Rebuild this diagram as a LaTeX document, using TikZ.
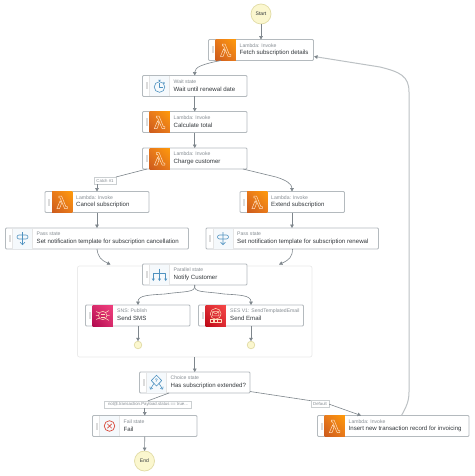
\documentclass[tikz,border=0pt]{standalone}
\usepackage{fontspec}
\setmainfont{Liberation Sans}
\usetikzlibrary{arrows.meta,calc,shadings}
\definecolor{edgeC}{HTML}{7E868C}
\definecolor{loopC}{HTML}{BCC1C4}
\definecolor{borderC}{HTML}{B4BABE}
\definecolor{typeC}{HTML}{858C92}
\definecolor{titleC}{HTML}{33383C}
\definecolor{stripC}{HTML}{F5F9FC}
\definecolor{iconB}{HTML}{4F92C0}
\definecolor{iconR}{HTML}{D8483A}
\definecolor{endFill}{HTML}{FBF7CF}
\definecolor{endLine}{HTML}{E2DCA6}
\definecolor{lamLL}{HTML}{CC5A1C}
\definecolor{lamUR}{HTML}{FF9A0A}
\definecolor{lamMid}{HTML}{E87A1C}
\definecolor{snsLL}{HTML}{B0084D}
\definecolor{snsUR}{HTML}{F0407E}
\definecolor{snsMid}{HTML}{D82C6C}
\definecolor{sesLL}{HTML}{BD0816}
\definecolor{sesUR}{HTML}{F54848}
\definecolor{sesMid}{HTML}{DE2D34}
\tikzset{
  x=1pt,y=-1pt,
  statebox/.style={draw=borderC,line width=.8pt,rounded corners=1pt,fill=white,inner sep=0pt,outer sep=0pt,anchor=north west,minimum height=21pt},
  typetext/.style={anchor=west,inner sep=0pt,text=typeC,font=\fontsize{5.1}{6}\selectfont},
  titletext/.style={anchor=west,inner sep=0pt,text=titleC,font=\fontsize{6.1}{7}\selectfont},
  terminal/.style={circle,draw=endLine,line width=.7pt,fill=endFill,inner sep=0pt,outer sep=0pt,minimum size=20pt,font=\fontsize{5.1}{6}\selectfont,text=titleC},
  dotend/.style={circle,draw=endLine,line width=.7pt,fill=endFill,inner sep=0pt,outer sep=0pt,minimum size=7.6pt},
  choicelabel/.style={draw=borderC!70,line width=.5pt,fill=white,inner sep=0pt,outer sep=0pt,minimum height=7pt,font=\fontsize{4.3}{5}\selectfont,text=typeC},
  conn/.style={draw=edgeC,line width=.6pt,-{Triangle[length=3.4pt,width=3.6pt]}},
  connplain/.style={draw=edgeC,line width=.6pt},
  loopconn/.style={draw=loopC,line width=1pt,-{Triangle[length=3.4pt,width=3.6pt,color=edgeC]}},
  groupbox/.style={draw=black!8,line width=.7pt,rounded corners=2pt,fill=white,inner sep=0pt,outer sep=0pt,anchor=north west},
  blueicon/.style={draw=iconB,line width=.6pt,fill=none,line join=round},
  whiteicon/.style={draw=white!75!orange,line width=.5pt,fill=none,line join=round},
}
% #1 name #2 x1 #3 y1 #4 x2 #5 icon code #6 type #7 title #8 text offset
\newcommand{\statenode}[8]{%
  \pgfmathsetmacro{\boxw}{#4-#2}%
  \node[statebox,minimum width=\boxw pt] (#1) at (#2,#3) {};
  \fill[black!14] (#2+3,#3+7) rectangle (#2+5,#3+14);
  \begin{scope}[shift={(#2+7,#3)}]#5\end{scope}
  \node[typetext] (#1-type) at (#2+#8,#3+5.7) {#6};
  \node[titletext] (#1-title) at (#2+#8,#3+13.7) {#7};
}
\newcommand{\iconstrip}{%
  \fill[stripC] (0,.5) rectangle (20,20.5);
  \draw[black!10,line width=.4pt] (0,.5) -- (0,20.5) (20,.5) -- (20,20.5);
}
\newcommand{\lambdaicon}{%
  \shade[lower left=lamLL,upper right=lamUR,lower right=lamMid,upper left=lamMid] (0,0) rectangle (20.4,21);
  \draw[whiteicon] (6.8,4.6) -- (9.6,4.6) -- (13.8,15) -- (15.4,15) -- (15.4,17) -- (12.6,17) -- (8.6,7.6) -- (8,6.4) -- (6.8,6.4) -- cycle
    (8.1,9.4) -- (9.4,12.2) -- (7.6,17) -- (4.9,17) -- cycle;
}
\newcommand{\waiticon}{\iconstrip
  \draw[blueicon] (10,11.5) circle (5.3);
  \draw[blueicon] (10,7.6) -- (10,11.7) -- (13,11.7);
  \draw[blueicon] (8.6,4.6) -- (11.4,4.6) (10,4.6) -- (10,6.2) (14,6.6) -- (15.2,7.8);
}
\newcommand{\passicon}{\iconstrip
  \draw[blueicon,rounded corners=2pt] (4.5,7) rectangle (15.5,11);
  \draw[blueicon] (10,4) -- (10,16.5) (7.6,14.2) -- (10,16.8) -- (12.4,14.2);
}
\newcommand{\parallelicon}{\iconstrip
  \draw[blueicon] (10,4.5) -- (10,15) (3.8,15) -- (3.8,9.5) -- (16.2,9.5) -- (16.2,15);
  \fill[iconB] (2.2,14.5) -- (5.4,14.5) -- (3.8,17) -- cycle (8.4,14.5) -- (11.6,14.5) -- (10,17) -- cycle (14.6,14.5) -- (17.8,14.5) -- (16.2,17) -- cycle;
}
\newcommand{\choiceicon}{\iconstrip
  \draw[blueicon] (10,3.2) -- (15.2,8.6) -- (10,14) -- (4.8,8.6) -- cycle;
  \node[inner sep=0pt,text=iconB,font=\fontsize{5}{5}\bfseries\selectfont] (choiceq) at (10,8.6) {?};
  \draw[blueicon] (7.4,11.5) -- (4,17) (12.6,11.5) -- (16,17);
  \draw[blueicon] (3.4,14.6) -- (3.8,17.2) -- (6.2,16.4) (16.6,14.6) -- (16.2,17.2) -- (13.8,16.4);
}
\newcommand{\failicon}{\iconstrip
  \draw[iconR,line width=.7pt] (10,10.5) circle (5.3);
  \draw[iconR,line width=.7pt] (7.8,8.3) -- (12.2,12.7) (12.2,8.3) -- (7.8,12.7);
}
\newcommand{\snsicon}{%
  \shade[lower left=snsLL,upper right=snsUR,lower right=snsMid,upper left=snsMid] (0,0) rectangle (20.4,21);
  \draw[whiteicon] (10.2,10.5) circle (4.2) (6,10.5) -- (3.4,10.5) (13.2,7.4) -- (16.4,5.6) (14.4,10.5) -- (17.2,10.5) (13.2,13.6) -- (16.4,15.4) (3.6,6.5) -- (6.8,8) (3.6,14.5) -- (6.8,13);
  \draw[whiteicon] (8.2,9) -- (12.2,9) (8.2,11.8) -- (12.2,11.8);
}
\newcommand{\sesicon}{%
  \shade[lower left=sesLL,upper right=sesUR,lower right=sesMid,upper left=sesMid] (0,0) rectangle (20.4,21);
  \draw[whiteicon] (10.2,8.8) circle (5.4) (7,6.6) rectangle (13.4,10.8) (7,6.6) -- (10.2,9) -- (13.4,6.6);
  \draw[whiteicon] (4.5,14.5) rectangle (8.5,17.4) (8.2,14.5) rectangle (12.2,17.4) (11.9,14.5) rectangle (15.9,17.4);
}
\begin{document}
\begin{tikzpicture}
\useasboundingbox (0,0) rectangle (474,476);
\fill[white] (0,0) rectangle (474,476);
% parallel group
\node[groupbox,minimum width=234.5pt,minimum height=91pt] (group) at (77.5,266) {};
% states
\node[terminal] (start) at (261,14) {Start};
\statenode{fetch}{208.5}{39.5}{313.5}{\lambdaicon}{Lambda: Invoke}{Fetch subscription details}{31}
\statenode{wait}{142.5}{75.5}{247}{\waiticon}{Wait state}{Wait until renewal date}{31}
\statenode{calc}{142.5}{111.5}{247}{\lambdaicon}{Lambda: Invoke}{Calculate total}{31}
\statenode{charge}{142.5}{148}{247}{\lambdaicon}{Lambda: Invoke}{Charge customer}{31}
\statenode{cancel}{45}{191.5}{149}{\lambdaicon}{Lambda: Invoke}{Cancel subscription}{31}
\statenode{extend}{240}{191.5}{344.5}{\lambdaicon}{Lambda: Invoke}{Extend subscription}{31}
\statenode{passa}{5.5}{228}{188.5}{\passicon}{Pass state}{Set notification template for subscription cancellation}{31}
\statenode{passb}{206}{228}{378.5}{\passicon}{Pass state}{Set notification template for subscription renewal}{31}
\statenode{parallel}{142.5}{264}{247}{\parallelicon}{Parallel state}{Notify Customer}{31}
\statenode{sns}{85.5}{305}{190}{\snsicon}{SNS: Publish}{Send SMS}{31.5}
\statenode{ses}{198.5}{305}{303.5}{\sesicon}{SES V1: SendTemplatedEmail}{Send Email}{31.5}
\node[dotend] (dota) at (138,345) {};
\node[dotend] (dotb) at (251,345) {};
\statenode{choice}{139.5}{372}{250}{\choiceicon}{Choice state}{Has subscription extended?}{31}
\statenode{fail}{92.5}{415.5}{197}{\failicon}{Fail state}{Fail}{31}
\node[terminal] (finish) at (144.5,461) {End};
\statenode{insert}{317.5}{415.5}{469}{\lambdaicon}{Lambda: Invoke}{Insert new transaction record for invoicing}{31}
% choice labels
\node[choicelabel,minimum width=22pt] (lblcatch) at (105,180.5) {Catch \#1};
\node[choicelabel,minimum width=87pt] (lblnot) at (148,404.3) {not(\$.transaction.Payload.status == true...};
\node[choicelabel,minimum width=18.5pt] (lbldefault) at (320,404.2) {Default};
% anchors
\coordinate (fetchout) at ($(fetch.south west)+(12.5,0)$);
\coordinate (waitin) at (wait.north);
\coordinate (chargeoutL) at ($(charge.south west)+(4.5,0)$);
\coordinate (chargeoutR) at ($(charge.south east)+(-4,0)$);
\coordinate (extendin) at ($(extend.north west)+(52,0)$);
\coordinate (cancelin) at ($(cancel.north west)+(52,0)$);
\coordinate (passaout) at ($(passa.south west)+(91.5,0)$);
\coordinate (passbout) at ($(passb.south west)+(86.5,0)$);
\coordinate (groupinL) at ($(group.north west)+(33,-1.5)$);
\coordinate (groupinR) at ($(group.north east)+(-33,-1.5)$);
\coordinate (choiceoutL) at ($(choice.south west)+(29.5,0)$);
\coordinate (choiceoutR) at ($(choice.south east)+(0,-1.5)$);
\coordinate (failin) at (fail.north);
\coordinate (insertin) at ($(insert.north west)+(43.5,0)$);
\coordinate (insertout) at ($(insert.north west)+(84,0)$);
\coordinate (fetchin) at ($(fetch.south east)+(.6,-4)$);
% connectors
\draw[conn] (start) -- (start|-fetch.north);
\draw[conn] (fetchout) .. controls (203,64) and (194.7,67) .. (waitin);
\draw[conn] (wait) -- (calc);
\draw[conn] (calc) -- (charge);
\draw[connplain] (chargeoutL) -- (lblcatch.north east);
\draw[conn] (cancelin|-lblcatch.south) -- (cancelin);
\draw[conn] (chargeoutR) -- (276,177) .. controls (286,180) and (292,184) .. (extendin);
\draw[conn] (cancelin) ++(0,21) -- (cancelin|-passa.north);
\draw[conn] (extendin) ++(0,21) -- (extendin|-passb.north);
\draw[conn] (passaout) .. controls (98,257) and (101,260) .. (groupinL);
\draw[conn] (passbout) .. controls (292.5,257) and (289,260) .. (groupinR);
\draw[conn] (parallel.south) .. controls (196,293) and (185,291) .. (165,294) .. controls (150,295) and (138,295) .. (sns.north-|dota);
\draw[conn] (parallel.south) .. controls (193,293) and (204,291) .. (224,294) .. controls (239,295) and (251,295) .. (ses.north-|dotb);
\draw[conn] (sns.south-|dota) -- (dota);
\draw[conn] (ses.south-|dotb) -- (dotb);
\draw[conn] (group.south-|choice.north) -- (choice.north);
\draw[connplain] (choiceoutL) -- (lblnot.north);
\draw[conn] (lblnot.south-|failin) -- (failin);
\draw[connplain] (choiceoutR) -- (lbldefault.north west);
\draw[conn] (lbldefault.east) -- (insertin);
\draw[conn] (fail.south) -- (finish);
\draw[loopconn] (insertout) .. controls (406,407) and (409,402) .. (409,392) -- (409,92) .. controls (409,76) and (400,72) .. (380,67) -- (fetchin);
\end{tikzpicture}
\end{document}
